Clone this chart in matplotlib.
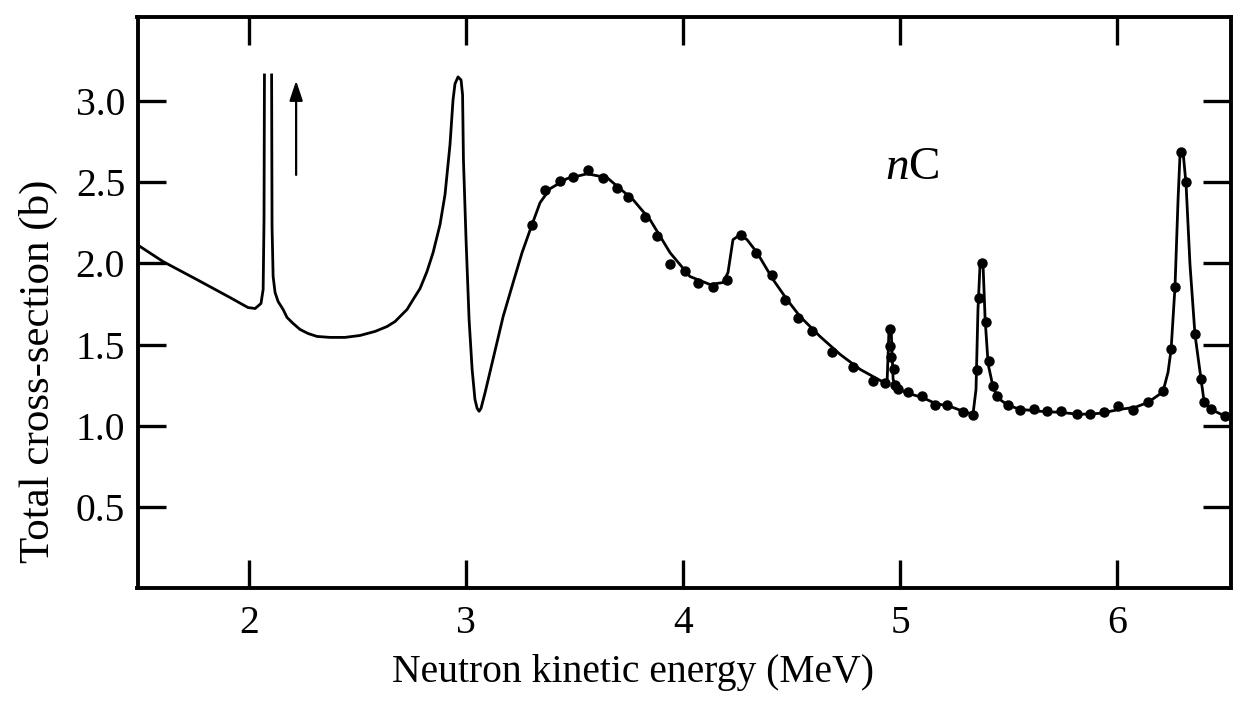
import matplotlib.pyplot as plt
import numpy as np

# fit curve (MeV, barn); nan marks the clipped top of the 2.08 MeV resonance
curve_E = [1.484, 1.604, 1.760, 1.912, 1.995, 2.028, 2.055, 2.065, 2.069, 2.071,
           np.nan,
           2.104, 2.106, 2.111, 2.120, 2.134, 2.157, 2.175, 2.203, 2.235, 2.272,
           2.313, 2.373, 2.442, 2.512, 2.581, 2.636, 2.673, 2.696, 2.728, 2.756,
           2.788, 2.820, 2.848, 2.880, 2.903, 2.926,
           2.940, 2.949, 2.963, 2.977, 2.984, 2.988, 3.000, 3.014, 3.028, 3.041,
           3.051, 3.060, 3.069, 3.088, 3.124, 3.171, 3.217, 3.258, 3.304, 3.341,
           3.387, 3.465, 3.558, 3.650, 3.770, 3.848, 3.940, 4.032, 4.124, 4.184,
           4.207, 4.230, 4.263, 4.295, 4.341, 4.415, 4.479, 4.539, 4.631, 4.724,
           4.816, 4.908, 4.940, 4.949, 4.959, 4.968, 4.986, 5.037, 5.101, 5.161,
           5.230, 5.290, 5.336, 5.350, 5.359, 5.369, 5.382, 5.392, 5.406, 5.429,
           5.452, 5.498, 5.553, 5.645, 5.737, 5.829, 5.922, 6.014, 6.083, 6.143,
           6.189, 6.212, 6.235, 6.249, 6.267, 6.281, 6.290, 6.304, 6.318, 6.336,
           6.359, 6.387, 6.401, 6.433, 6.498, 6.525]
curve_sigma = [2.116, 2.011, 1.900, 1.790, 1.728, 1.722, 1.753, 1.839, 2.269, 3.161,
               np.nan,
               3.161, 2.226, 1.919, 1.820, 1.765, 1.716, 1.667, 1.630, 1.593, 1.568,
               1.550, 1.544, 1.544, 1.556, 1.581, 1.611, 1.642, 1.673, 1.716, 1.777,
               1.845, 1.950, 2.066, 2.239, 2.423, 2.731,
               3.007, 3.106, 3.149, 3.130, 3.038, 2.638, 2.146, 1.654, 1.347, 1.162,
               1.107, 1.089, 1.107, 1.205, 1.408, 1.673, 1.882, 2.066, 2.239, 2.374,
               2.460, 2.522, 2.552, 2.528, 2.392, 2.269, 2.066, 1.919, 1.870, 1.882,
               1.943, 2.146, 2.177, 2.146, 2.066, 1.900, 1.777, 1.673, 1.550, 1.439,
               1.347, 1.279, 1.261, 1.593, 1.593, 1.285, 1.230, 1.199, 1.175, 1.138,
               1.119, 1.089, 1.070, 1.224, 1.716, 2.005, 2.005, 1.654, 1.378, 1.236,
               1.169, 1.125, 1.101, 1.089, 1.082, 1.070, 1.076, 1.101, 1.113, 1.144,
               1.187, 1.212, 1.330, 1.470, 1.857, 2.392, 2.669, 2.688, 2.485, 1.993,
               1.562, 1.285, 1.150, 1.101, 1.058, 1.039]

# measured points
data_E = [3.304, 3.364, 3.433, 3.493, 3.562, 3.631, 3.696, 3.747, 3.825, 3.880,
          3.940, 4.009, 4.069, 4.138, 4.203, 4.267, 4.336, 4.410, 4.470, 4.530,
          4.594, 4.687, 4.783, 4.876, 4.931, 4.954, 4.954, 4.959, 4.972, 4.977,
          4.991, 5.037, 5.101, 5.161, 5.217, 5.290, 5.336, 5.355, 5.364, 5.378,
          5.396, 5.410, 5.429, 5.447, 5.498, 5.553, 5.618, 5.677, 5.742, 5.816,
          5.876, 5.940, 6.005, 6.074, 6.143, 6.212, 6.249, 6.267, 6.295, 6.318,
          6.359, 6.387, 6.401, 6.433, 6.498]
data_sigma = [2.239, 2.454, 2.509, 2.534, 2.577, 2.528, 2.466, 2.411, 2.288, 2.171,
              1.999, 1.950, 1.882, 1.857, 1.900, 2.177, 2.066, 1.931, 1.777, 1.661,
              1.581, 1.451, 1.359, 1.273, 1.261, 1.593, 1.488, 1.421, 1.347, 1.248,
              1.224, 1.205, 1.181, 1.125, 1.125, 1.082, 1.064, 1.341, 1.784, 2.005,
              1.636, 1.396, 1.242, 1.181, 1.125, 1.095, 1.101, 1.089, 1.089, 1.070,
              1.070, 1.082, 1.119, 1.095, 1.144, 1.212, 1.470, 1.857, 2.688, 2.503,
              1.562, 1.285, 1.144, 1.101, 1.058]

xticks = [2, 3, 4, 5, 6]
yticks = [0.5, 1.0, 1.5, 2.0, 2.5, 3.0]

plt.rcParams['font.family'] = ['Liberation Serif', 'DejaVu Serif']
plt.rcParams['mathtext.fontset'] = 'custom'
plt.rcParams['mathtext.rm'] = 'Liberation Serif'
plt.rcParams['mathtext.it'] = 'Liberation Serif:italic'

fig = plt.figure(figsize=(12.52, 7.01), dpi=100)
ax = fig.add_axes([137.5 / 1252, 113 / 701, 1093.5 / 1252, 571 / 701])

ax.plot(curve_E, curve_sigma, color='black', lw=2.0)
ax.plot(data_E, data_sigma, 'o', color='black', ms=6.5)

# arrow: 2.08 MeV peak goes off scale
ax.annotate('', xy=(2.217, 3.143), xytext=(2.217, 2.528),
            arrowprops=dict(arrowstyle='-|>,head_length=1.2,head_width=0.4',
                            color='black', lw=1.6))

ax.text(4.931, 2.52, r'$n$C', fontsize=34, ha='left', va='baseline')

ax.set_xlim(1.486, 6.525)
ax.set_ylim(0, 3.518)
ax.set_xticks(xticks)
ax.set_yticks(yticks)
ax.set_xticklabels([str(t) for t in xticks])
ax.set_yticklabels(['%.1f' % t for t in yticks])

ax.tick_params(direction='in', length=20, width=2.4, labelsize=28.5,
               top=True, right=True)
ax.tick_params(axis='x', pad=12)
ax.tick_params(axis='y', pad=9)
for s in ax.spines.values():
    s.set_linewidth(2.8)

ax.set_xlabel('Neutron kinetic energy (MeV)', fontsize=28.5)
ax.set_ylabel('Total cross-section (b)', fontsize=31)
ax.xaxis.set_label_coords(0.453, -0.115)
ax.yaxis.set_label_coords(-0.073, 0.38)

fig.savefig('out.png', dpi=100)
